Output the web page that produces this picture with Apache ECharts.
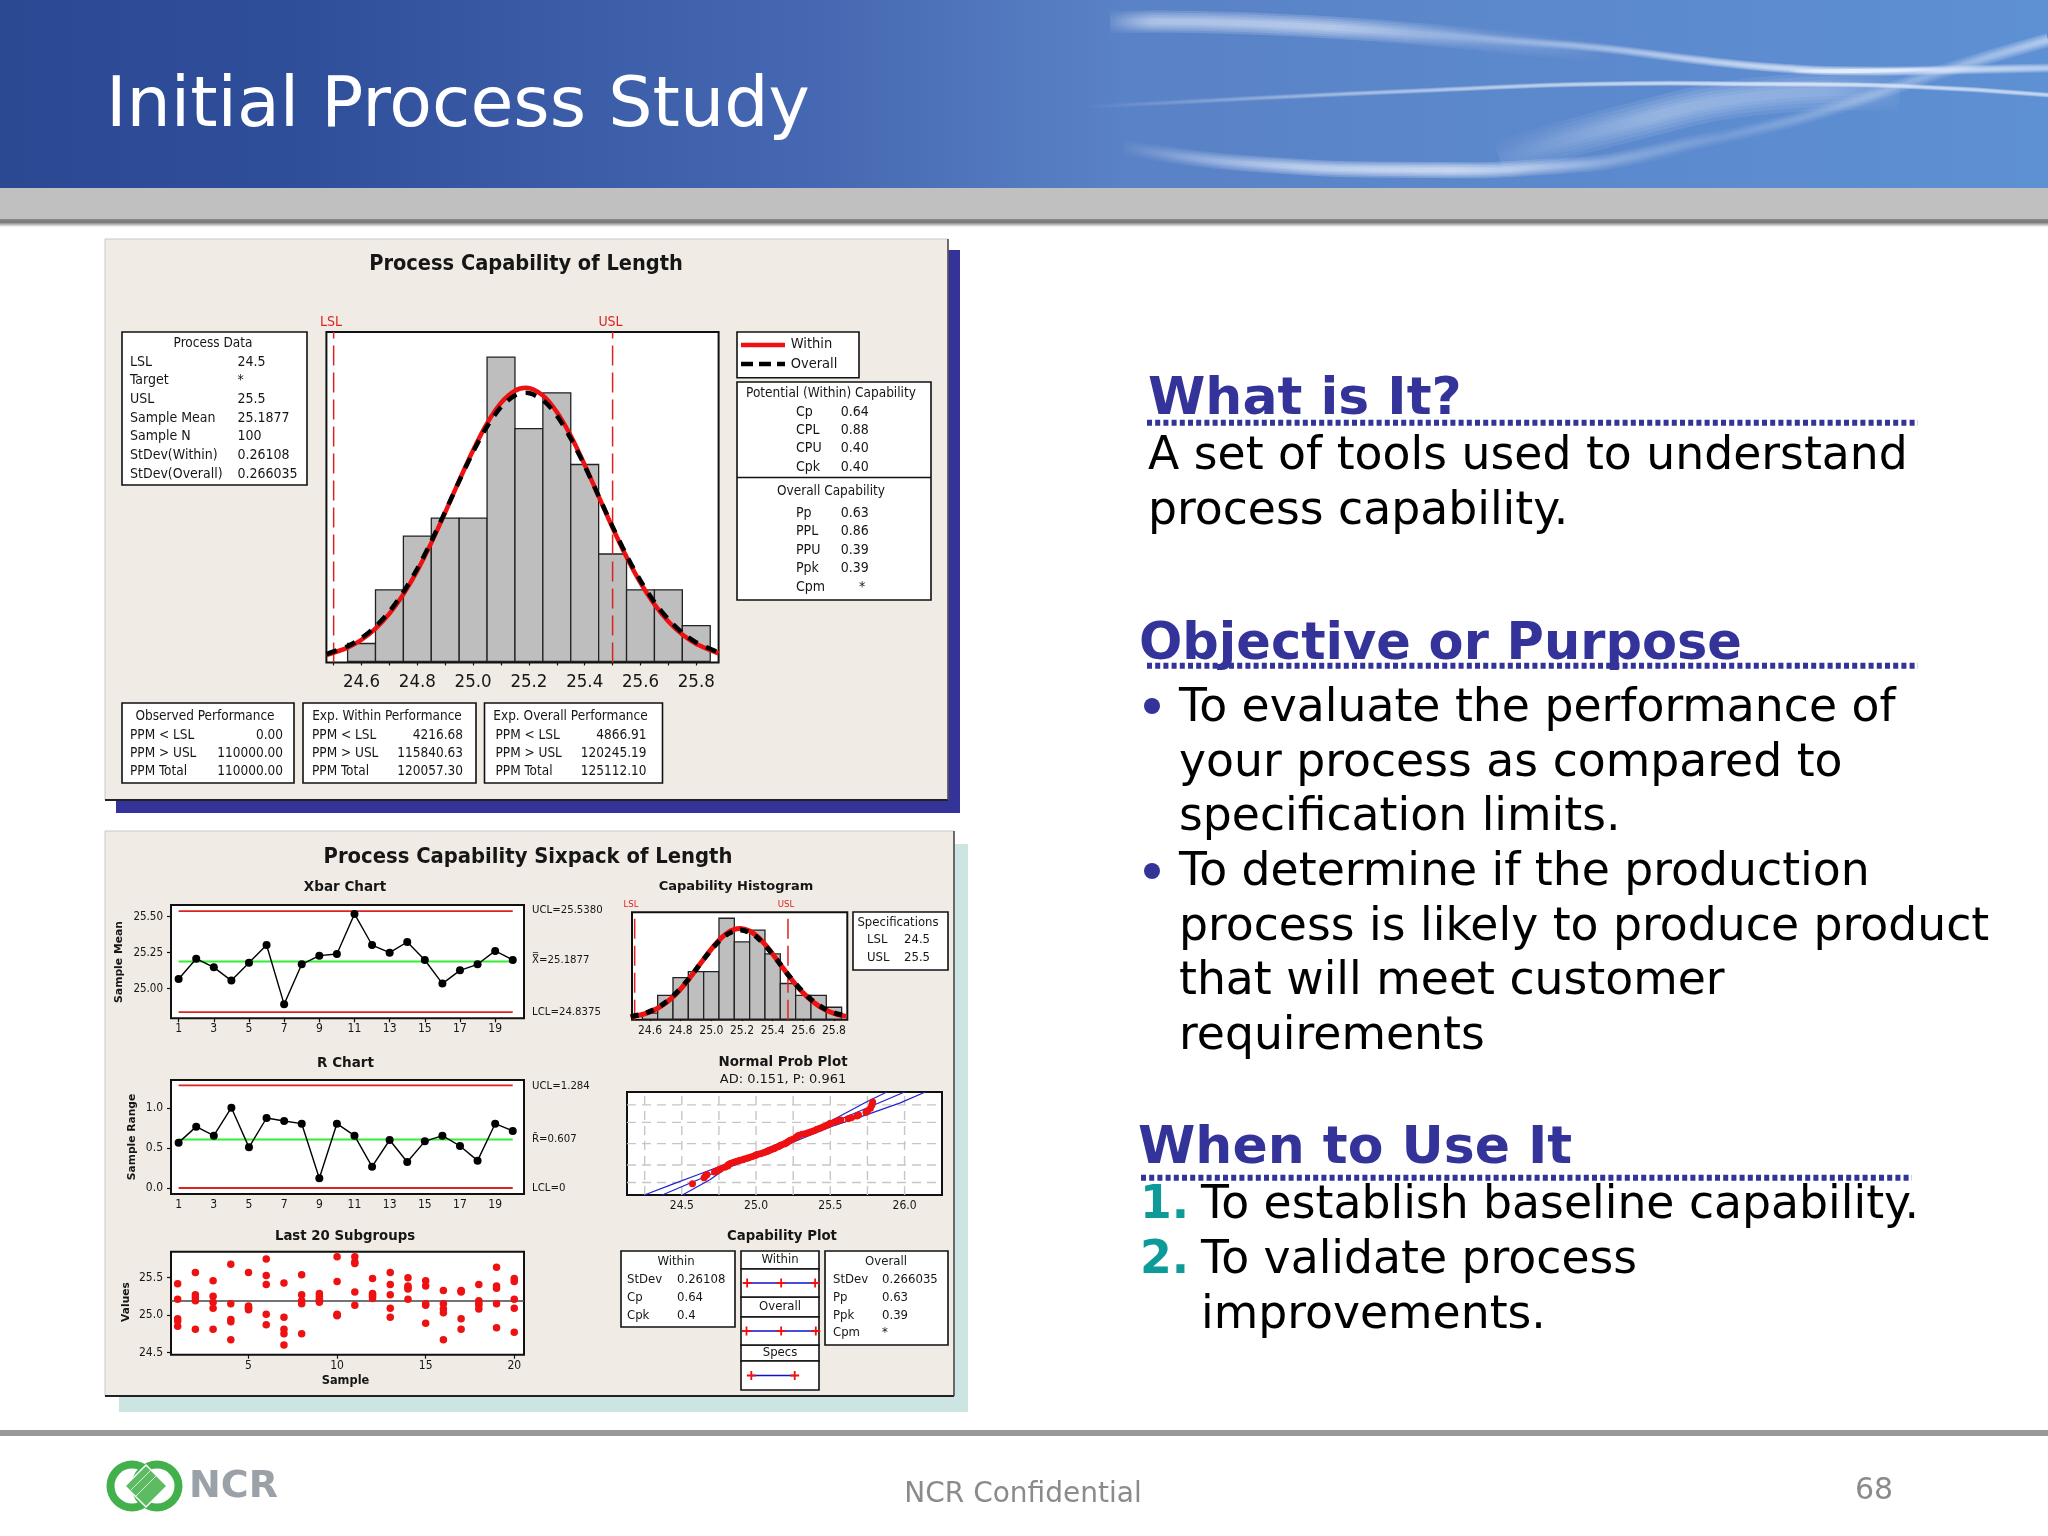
<!DOCTYPE html>
<html><head><meta charset="utf-8">
<style>html,body{margin:0;padding:0;background:#fff}#c{width:2048px;height:1536px}</style>
<script src="https://cdn.jsdelivr.net/npm/echarts@6/dist/echarts.min.js"></script>
</head><body><div id="c"></div>
<script>
/* ---------- data ---------- */
const slideTitle = 'Initial Process Study';
const specLimits = [24.5, 25.5];
const histBins = [24.6,24.7,24.8,24.9,25.0,25.1,25.2,25.3,25.4,25.5,25.6,25.7,25.8];
const histCounts = [1,4,7,8,8,17,13,15,11,6,4,4,2];
const curveX = [24.474,24.55,24.6,24.65,24.7,24.75,24.8,24.85,24.9,24.95,25.0,25.05,25.1,25.15,25.19,25.25,25.3,25.35,25.4,25.45,25.5,25.55,25.6,25.65,25.7,25.75,25.8,25.88];
const curveWithin = [.36,.77,1.21,1.83,2.67,3.75,5.07,6.62,8.33,10.10,11.80,13.30,14.44,15.12,15.28,14.85,13.93,12.60,10.98,9.22,7.47,5.83,4.39,3.19,2.23,1.50,.98,.45];
const curveOverall = [.41,.85,1.31,1.95,2.80,3.88,5.19,6.71,8.37,10.07,11.70,13.12,14.21,14.85,15.0,14.59,13.73,12.45,10.92,9.23,7.53,5.93,4.51,3.31,2.35,1.60,1.06,.51];
const subgroupIds = [1,2,3,4,5,6,7,8,9,10,11,12,13,14,15,16,17,18,19,20];
const xbarValues = [25.067,25.208,25.148,25.056,25.18,25.303,24.891,25.169,25.229,25.241,25.519,25.303,25.25,25.324,25.199,25.035,25.127,25.169,25.262,25.199];
const xbarUCL = 25.538, xbarMean = 25.1877, xbarLCL = 24.8375;
const rangeValues = [.567,.767,.654,1.004,.508,.875,.838,.804,.121,.804,.654,.267,.6,.325,.583,.654,.525,.342,.804,.713];
const rangeUCL = 1.284, rangeMean = .607, rangeLCL = 0;
const last20 = [
 [25.42,25.21,24.95,24.92,24.85],[25.57,25.27,25.23,25.19,24.81],[25.46,25.25,25.17,25.09,24.81],
 [25.68,25.15,24.94,24.91,24.67],[25.57,25.12,25.10,25.07,25.09],[25.75,25.53,25.41,25.01,24.87],
 [25.43,24.97,24.81,24.75,24.60],[25.54,25.27,25.19,25.15,24.75],[25.29,25.25,25.21,25.17,25.19],
 [25.78,25.45,25.01,24.99,25.00],[25.78,25.71,25.69,25.31,25.13],[25.49,25.29,25.27,25.25,25.22],
 [25.57,25.41,25.27,25.09,24.97],[25.50,25.39,25.37,25.35,25.21],[25.46,25.39,25.15,25.13,24.89],
 [25.33,25.15,25.08,25.03,24.67],[25.33,25.32,25.31,24.95,24.81],[25.41,25.19,25.16,25.13,25.08],
 [25.64,25.39,25.36,25.15,24.83],[25.49,25.45,25.21,25.09,24.77]];
const probPoints = [[24.572,-2.40],[24.65,-2.05],[24.66,-1.92],[24.67,-1.85],[24.72,-1.70],[24.74,-1.62],[24.75,-1.56],[24.76,-1.52],[24.79,-1.42],[24.81,-1.34],[24.81,-1.28],[24.82,-1.24],[24.83,-1.18],[24.85,-1.12],[24.87,-1.06],[24.89,-1.00],[24.91,-.96],[24.92,-.92],[24.94,-.88],[24.95,-.84],[24.97,-.78],[24.99,-.72],[25.0,-.68],[25.01,-.64],[25.03,-.60],[25.05,-.54],[25.07,-.48],[25.08,-.44],[25.09,-.40],[25.10,-.36],[25.12,-.30],[25.13,-.24],[25.15,-.18],[25.16,-.12],[25.17,-.08],[25.19,-.02],[25.20,.02],[25.21,.08],[25.22,.14],[25.23,.20],[25.25,.28],[25.27,.38],[25.28,.46],[25.29,.50],[25.31,.56],[25.33,.60],[25.35,.66],[25.37,.72],[25.39,.78],[25.41,.86],[25.43,.92],[25.45,1.00],[25.47,1.08],[25.49,1.16],[25.50,1.22],[25.53,1.30],[25.55,1.38],[25.57,1.42],[25.62,1.50],[25.64,1.56],[25.68,1.66],[25.69,1.72],[25.74,1.88],[25.75,1.96],[25.77,2.12],[25.78,2.32],[25.785,2.50]];
const probFit = [[24.368,-3.08],[26.0,3.1]];
const probUpper = [[24.248,-3.08],[24.43,-2.46],[24.621,-1.82],[24.846,-1.06],[25.0,-.56],[25.253,.40],[25.5,1.34],[25.752,2.54],[25.881,3.1]];
const probLower = [[24.504,-3.08],[24.689,-2.16],[24.801,-1.46],[25.0,-.84],[25.253,.10],[25.5,1.0],[25.752,1.76],[25.971,2.45],[26.14,3.1]];
const probGridX = [24.25,24.5,24.75,25.0,25.25,25.5,25.75,26.0];
const probGridZ = [-2.33,-1.28,0,1.28,2.33];
const capWithin = [24.404,25.1877,25.971];
const capOverall = [24.389,25.1877,25.986];
const processData = [['LSL','24.5'],['Target','*'],['USL','25.5'],['Sample Mean','25.1877'],['Sample N','100'],['StDev(Within)','0.26108'],['StDev(Overall)','0.266035']];
const potentialCap = [['Cp','0.64'],['CPL','0.88'],['CPU','0.40'],['Cpk','0.40']];
const overallCap = [['Pp','0.63'],['PPL','0.86'],['PPU','0.39'],['Ppk','0.39'],['Cpm','*']];
const observedPerf = [['PPM < LSL','0.00'],['PPM > USL','110000.00'],['PPM Total','110000.00']];
const withinPerf = [['PPM < LSL','4216.68'],['PPM > USL','115840.63'],['PPM Total','120057.30']];
const overallPerf = [['PPM < LSL','4866.91'],['PPM > USL','120245.19'],['PPM Total','125112.10']];
const capWithinRows = [['StDev','0.26108'],['Cp','0.64'],['Cpk','0.4']];
const capOverallRows = [['StDev','0.266035'],['Pp','0.63'],['Ppk','0.39'],['Cpm','*']];
const whatLines = ['A set of tools used to understand','process capability.'];
const purposeLines = ['To evaluate the performance of','your process as compared to','specification limits.','To determine if the production','process is likely to produce product','that will meet customer','requirements'];
const whenLines = ['To establish baseline capability.','To validate process','improvements.'];

/* ---------- drawing helpers ---------- */
const SANS='"DejaVu Sans"', COND='"DejaVu Sans Condensed","DejaVu Sans"';
const INK='#161616';
const els=[];
function T(text,x,y,size,o){o=o||{};els.push({type:'text',x,y,z:o.z==null?20:o.z,silent:true,rotation:o.rot||0,
  style:{text,fill:o.fill||INK,fontSize:size,fontFamily:o.fam||COND,fontWeight:o.w||'normal',align:o.a||'left',verticalAlign:'middle'}});}
function R(x,y,w,h,fill,o){o=o||{};els.push({type:'rect',z:o.z==null?-5:o.z,silent:true,shape:{x,y,width:w,height:h},style:{fill,stroke:o.stroke||null,lineWidth:o.lw||0}});}
function L(x1,y1,x2,y2,c,lw,o){o=o||{};els.push({type:'line',z:o.z==null?21:o.z,silent:true,shape:{x1,y1,x2,y2},style:{stroke:c,lineWidth:lw,lineDash:o.dash||null}});}
function Box(x,y,w,h){R(x,y,w,h,'#fff',{stroke:'#111',lw:1.6,z:-1});}

/* slide furniture */
R(0,0,2048,188,{type:'linear',x:0,y:0,x2:1,y2:0,colorStops:[{offset:0,color:'#2b4893'},{offset:.14,color:'#2f4e9a'},{offset:.4,color:'#4668b2'},{offset:.55,color:'#5a82c6'},{offset:1,color:'#5e90d4'}]},{z:-20});
/* soft header streaks: layered strokes, fading along their length */
function swoosh(pts,w,op,stops){
  [1,.8,.6,.42,.25].forEach(k=>els.push({type:'polyline',z:-19,silent:true,shape:{points:pts,smooth:.5},style:{fill:null,lineWidth:w*k,
    stroke:{type:'linear',x:0,y:0,x2:1,y2:0,colorStops:stops.map(s=>({offset:s[0],color:'rgba(230,238,252,'+(s[1]*op/3).toFixed(3)+')'}))}}}));
}
swoosh([[1110,22],[1200,22],[1306,26],[1420,34],[1502,42],[1600,52]],22,.6,[[0,0],[.1,.8],[.45,.9],[.75,.3],[1,0]]);
swoosh([[1420,32],[1502,40],[1600,48],[1698,60],[1780,68],[1855,71],[1950,70],[2048,68]],9,.9,[[0,0],[.3,.45],[.68,1],[1,.6]]);
swoosh([[1084,107],[1260,98],[1437,90],[1600,84],[1760,84],[1900,86],[2048,95]],5,.9,[[0,0],[.3,.5],[.7,1],[1,.8]]);
swoosh([[1123,147],[1241,163],[1436,170],[1560,166],[1633,157],[1720,135]],16,.75,[[0,0],[.3,.8],[.55,1],[.8,.3],[1,0]]);
swoosh([[1500,160],[1620,125],[1760,96],[1900,92]],38,.3,[[0,.1],[.4,1],[.8,.8],[1,0]]);
swoosh([[1600,160],[1680,145],[1740,133],[1828,110],[1940,72],[2048,40]],14,.5,[[0,0],[.4,.3],[.75,.5],[1,1]]);
swoosh([[1790,71],[1855,71],[1940,69]],4,2.4,[[0,0],[.4,1],[1,0]]);
R(0,188,2048,32,'#c0c0c0',{z:-20});
R(0,219,2048,8,{type:'linear',x:0,y:0,x2:0,y2:1,colorStops:[{offset:0,color:'#8a8a8a'},{offset:.4,color:'#777'},{offset:1,color:'#ffffff'}]},{z:-20});
T(slideTitle,106,108,69.8,{fam:SANS,fill:'#fff'});

R(0,1430,2048,6,'#999',{z:-20});
T('NCR Confidential',1023,1495,28,{fam:SANS,fill:'#8b8b8b',a:'center'});
T('68',1874,1491,30,{fam:SANS,fill:'#8b8b8b',a:'center'});
/* logo */
els.push({type:'ring',z:-4,silent:true,shape:{cx:132,cy:1486,r:25.5,r0:17.5},style:{fill:'#43b14b'}});
els.push({type:'ring',z:-4,silent:true,shape:{cx:157,cy:1486,r:25.5,r0:17.5},style:{fill:'#43b14b'}});
els.push({type:'polygon',z:-3,silent:true,shape:{points:[[125,1486],[146,1465],[167,1486],[146,1507]]},style:{fill:'#5dbb62',stroke:'#fff',lineWidth:1.5}});
L(136,1496,156,1476,'#d8f0d8',1,{});L(131,1490,151,1470,'#d8f0d8',1,{});
T('NCR',189,1487,38,{fam:SANS,w:'bold',fill:'#9ba1a8'});

/* panel 1 */
R(116,250,844,563,'#333399',{z:-15});
R(105,239,843,561,'#f0ece5',{z:-14,stroke:'#c8c8c8',lw:1});
L(105,800,948,800,'#222',2,{z:-13});L(948,239,948,800,'#444',1.5,{z:-13});
T('Process Capability of Length',526,264,21.6,{w:'bold',a:'center'});
T('LSL',331,322,14,{a:'center',fill:'#dd2222'});T('USL',610.5,322,14,{a:'center',fill:'#dd2222'});
/* process data */
Box(122,332,185,153);
T('Process Data',213,343,13.5,{a:'center'});
processData.forEach((r,i)=>{const y=362+i*18.7;T(r[0],130,y,14);T(r[1],237.5,y,14);});
/* legend */
Box(737,332,122,45.8);
L(741,345,785,345,'#ee1111',4.5,{});L(741,364,785,364,'#000',4.5,{dash:[12,6]});
T('Within',790.7,344,14.5);T('Overall',790.7,364,14.5);
/* capability */
Box(737,382,194,218);L(737,477.5,931,477.5,'#111',1.5,{});
T('Potential (Within) Capability',831,393,13.5,{a:'center'});
potentialCap.forEach((r,i)=>{const y=412+i*18.4;T(r[0],796,y,14);T(r[1],840.7,y,14);});
T('Overall Capability',831,491,13.5,{a:'center'});
overallCap.forEach((r,i)=>{const y=513+i*18.5;T(r[0],796,y,14);T(r[1],r[1]==='*'?859:840.7,y,14);});
/* performance */
[[122,172,'Observed Performance',205,130,283,observedPerf],[303,173,'Exp. Within Performance',387,312,463,withinPerf],[484.5,178,'Exp. Overall Performance',570.5,495.5,646.5,overallPerf]].forEach(b=>{
  Box(b[0],703,b[1],80);T(b[2],b[3],716,13.5,{a:'center'});
  b[6].forEach((r,i)=>{const y=735+i*18.1;T(r[0],b[4],y,13.5);T(r[1],b[5],y,13.5,{a:'right'});});
});

/* panel 2 */
R(119,844,849,568,'#cce5e3',{z:-15});
R(105,831,849,565,'#f0ece5',{z:-14,stroke:'#c8c8c8',lw:1});
L(105,1396,954,1396,'#222',2,{z:-13});L(954,831,954,1396,'#444',1.5,{z:-13});
T('Process Capability Sixpack of Length',528,857,21.8,{w:'bold',a:'center'});
const sub=(t,x,y,s)=>T(t,x,y,s,{fam:SANS,w:'bold',a:'center'});
sub('Xbar Chart',345,887,13.5);sub('R Chart',345.5,1063,13.5);sub('Last 20 Subgroups',345,1237,13.3);
sub('Capability Histogram',736,887,13);sub('Normal Prob Plot',783,1063,13.4);sub('Capability Plot',782,1237,13.3);
T('AD: 0.151, P: 0.961',783,1080,13,{fam:SANS,a:'center'});
T('Sample Mean',119,962,10.8,{fam:SANS,w:'bold',a:'center',rot:Math.PI/2});
T('Sample Range',132,1137,10.7,{fam:SANS,w:'bold',a:'center',rot:Math.PI/2});
T('Values',126,1302,10.7,{fam:SANS,w:'bold',a:'center',rot:Math.PI/2});
T('Sample',345.5,1381,11.4,{fam:SANS,w:'bold',a:'center'});
const rl=(t,y)=>T(t,532,y,11.3);
rl('UCL=25.5380',910);rl('X\u033F=25.1877',960);rl('LCL=24.8375',1012);
rl('UCL=1.284',1086);rl('R\u0304=0.607',1139);rl('LCL=0',1188);
T('LSL',631,905,9.5,{a:'center',fill:'#dd2222'});T('USL',786,905,9.5,{a:'center',fill:'#dd2222'});
Box(853,912,95,58);
T('Specifications',898,923,13,{a:'center'});
T('LSL',867,940,13);T('24.5',904,940,13);T('USL',867,958,13);T('25.5',904,958,13);
Box(621,1251,114,76);T('Within',676,1262,13,{a:'center'});
capWithinRows.forEach((r,i)=>{const y=1280+i*18;T(r[0],627,y,13);T(r[1],677,y,13);});
Box(825,1251,123,94);T('Overall',886,1262,13,{a:'center'});
capOverallRows.forEach((r,i)=>{const y=1280+i*17.7;T(r[0],833,y,13);T(r[1],882,y,13);});
Box(741,1251,78,18);T('Within',780,1260,13,{a:'center'});
Box(741,1297,78,20);T('Overall',780,1307,13,{a:'center'});
Box(741,1345,78,16);T('Specs',780,1353,13,{a:'center'});

/* right column text */
const NAVY='#333399', BODY=45.7, HEAD=52;
function dots(x1,x2,y){L(x1,y,x2,y,NAVY,6,{dash:[5,3.2],z:-2});}
const base=(t,x,b,size,o)=>T(t,x,b-size*.36,size,Object.assign({fam:SANS,fill:'#000'},o||{}));
base('What is It?',1148,419,HEAD,{w:'bold',fill:NAVY});dots(1147,1918,422.7);
whatLines.forEach((s,i)=>base(s,1148,474+i*55,BODY));
base('Objective or Purpose',1139,664,51,{w:'bold',fill:NAVY});dots(1147,1918,665.7);
purposeLines.forEach((s,i)=>base(s,1179,725.5+i*54.7,BODY));
[706,871].forEach(y=>els.push({type:'circle',z:-2,silent:true,shape:{cx:1152,cy:y,r:8},style:{fill:NAVY}}));
base('When to Use It',1138,1168,HEAD,{w:'bold',fill:NAVY});dots(1141,1912,1177.7);
base('1.',1140,1223,BODY,{w:'bold',fill:'#0f9a9a'});base('2.',1140,1278,BODY,{w:'bold',fill:'#0f9a9a'});
whenLines.forEach((s,i)=>base(s,1201,1223+i*54.7,BODY));

/* ---------- grids, axes, series ---------- */
const grids=[],xs=[],ys=[],series=[];
function addGrid(box,xo,yo){const g=grids.length;
  grids.push({left:box[0],top:box[1],width:box[2],height:box[3],show:true,backgroundColor:'#fff',borderColor:'#111',borderWidth:box[4]||2,containLabel:false,z:1});
  xs.push(Object.assign({type:'value',gridIndex:g,axisLine:{show:false},splitLine:{show:false}},xo));
  ys.push(Object.assign({type:'value',gridIndex:g,axisLine:{show:false},splitLine:{show:false}},yo));
  return g;}
function xAx(min,max,labels,ticks,size,fmt,margin,tlen){return {min,max,axisTick:{show:true,length:tlen||4,inside:false,customValues:ticks,lineStyle:{color:'#111',width:1.2}},axisLabel:{show:true,fontFamily:COND,fontSize:size,color:INK,margin,customValues:labels,formatter:fmt,showMinLabel:true,showMaxLabel:true,hideOverlap:false}};}
function yAx(min,max,labels,fmt,size){return {min,max,axisTick:{show:true,length:4,customValues:labels,lineStyle:{color:'#111',width:1.2}},axisLabel:{show:true,fontFamily:COND,fontSize:size||12,color:INK,margin:8,customValues:labels,formatter:fmt}};}
const hidden=(min,max)=>({min,max,show:false});
const f1=v=>v.toFixed(1),f2=v=>v.toFixed(2),f0=v=>String(v);

function histo(g,cw,dw,dash){
  series.push({type:'custom',xAxisIndex:g,yAxisIndex:g,silent:true,z:2,clip:true,data:histBins.map((b,i)=>[b,histCounts[i]]),
    renderItem(p,api){const a=api.coord([api.value(0)-.05,api.value(1)]),b=api.coord([api.value(0)+.05,0]);
      return {type:'rect',shape:{x:a[0],y:a[1],width:b[0]-a[0],height:b[1]-a[1]},style:{fill:'#bebebe',stroke:'#222',lineWidth:1.3}};}});
  specLimits.forEach(v=>series.push({type:'line',xAxisIndex:g,yAxisIndex:g,silent:true,z:3,symbol:'none',data:[[v,ys[g].min],[v,ys[g].max]],lineStyle:{color:'#dd2222',width:1.5,type:[20,7]}}));
  series.push({type:'line',name:'Within',xAxisIndex:g,yAxisIndex:g,silent:true,z:4,symbol:'none',smooth:.3,data:curveX.map((x,i)=>[x,curveWithin[i]]),lineStyle:{color:'#ee1111',width:cw}});
  series.push({type:'line',name:'Overall',xAxisIndex:g,yAxisIndex:g,silent:true,z:5,symbol:'none',smooth:.3,data:curveX.map((x,i)=>[x,curveOverall[i]]),lineStyle:{color:'#000',width:dw,type:dash}});
}
/* big histogram */
let g=addGrid([326.4,332,392.2,330.5],xAx(24.474,25.88,[24.6,24.8,25.0,25.2,25.4,25.6,25.8],[24.5,24.6,24.7,24.8,24.9,25.0,25.1,25.2,25.3,25.4,25.5,25.6,25.7,25.8],18.5,f1,10),hidden(-.06,18.4));
histo(g,4.5,4.5,[11,9]);
/* small histogram */
g=addGrid([632,912.3,215.3,107.4],xAx(24.4826,25.887,[24.6,24.8,25.0,25.2,25.4,25.6,25.8],[24.6,24.8,25.0,25.2,25.4,25.6,25.8],12,f1,5,2),hidden(-.1,18));
histo(g,5,5,[8,8]);

function control(box,xo,yo,values,ucl,mean,lcl){
  const g=addGrid(box,xo,yo);
  [[ucl,'#dd2222',1.8],[mean,'#33ee33',2],[lcl,'#dd2222',1.8]].forEach(l=>series.push({type:'line',xAxisIndex:g,yAxisIndex:g,silent:true,z:2,symbol:'none',data:[[1,l[0]],[20,l[0]]],lineStyle:{color:l[1],width:l[2]}}));
  series.push({type:'line',xAxisIndex:g,yAxisIndex:g,silent:true,z:3,symbol:'circle',symbolSize:8,data:subgroupIds.map((x,i)=>[x,values[i]]),itemStyle:{color:'#000'},lineStyle:{color:'#000',width:1.4}});
}
const oddTicks=[1,3,5,7,9,11,13,15,17,19];
control([171,905,353,113.3],xAx(.566,20.64,oddTicks,oddTicks,12,f0,5),yAx(24.794,25.581,[25,25.25,25.5],f2,11.5),xbarValues,xbarUCL,xbarMean,xbarLCL);
control([171,1080,353,114],xAx(.566,20.64,oddTicks,oddTicks,12,f0,5),yAx(-.075,1.35,[0,.5,1],f1),rangeValues,rangeUCL,rangeMean,rangeLCL);

/* last 20 subgroups */
g=addGrid([171,1251.7,353,103],xAx(.624,20.55,[5,10,15,20],[5,10,15,20],12,f0,5),yAx(24.469,25.848,[24.5,25,25.5],f1));
series.push({type:'line',xAxisIndex:g,yAxisIndex:g,silent:true,z:2,symbol:'none',data:[[.624,xbarMean],[20.55,xbarMean]],lineStyle:{color:'#444',width:1.5}});
series.push({type:'scatter',xAxisIndex:g,yAxisIndex:g,silent:true,z:3,symbol:'circle',symbolSize:7.5,clip:false,itemStyle:{color:'#ee1111',opacity:1},data:last20.flatMap((vals,i)=>vals.map(v=>[subgroupIds[i],v]))});

/* normal probability plot */
g=addGrid([627,1092,315,103],xAx(24.131,26.252,[24.5,25,25.5,26],[24.5,25,25.5,26],12,f1,5,3),hidden(-3.08,3.1));
probGridX.forEach(v=>series.push({type:'line',xAxisIndex:g,yAxisIndex:g,silent:true,z:2,symbol:'none',data:[[v,-3.08],[v,3.1]],lineStyle:{color:'#c6c6c6',width:1.4,type:[9,6]}}));
probGridZ.forEach(v=>series.push({type:'line',xAxisIndex:g,yAxisIndex:g,silent:true,z:2,symbol:'none',data:[[24.131,v],[26.252,v]],lineStyle:{color:'#c6c6c6',width:1.4,type:[9,6]}}));
[probFit,probUpper,probLower].forEach(d=>series.push({type:'line',xAxisIndex:g,yAxisIndex:g,silent:true,z:3,symbol:'none',data:d,lineStyle:{color:'#2222cc',width:1.2}}));
series.push({type:'scatter',xAxisIndex:g,yAxisIndex:g,silent:true,z:4,symbolSize:7,itemStyle:{color:'#ee1111',opacity:1},data:probPoints});

/* capability plot */
const PLUS='path://M4,0H6V4H10V6H6V10H4V6H0V4H4Z';
[[1269,28,capWithin],[1317,28,capOverall],[1361,29,specLimits]].forEach(p=>{
  const g=addGrid([741,p[0],78,p[1],1.6],hidden(24.262,26.06),hidden(-1,1));
  series.push({type:'line',xAxisIndex:g,yAxisIndex:g,silent:true,z:3,symbol:PLUS,symbolSize:9,data:p[2].map(x=>[x,0]),itemStyle:{color:'#ee1111'},lineStyle:{color:'#1111cc',width:1.6}});
});

const chart=echarts.init(document.getElementById('c'),null,{width:2048,height:1536,renderer:'canvas'});
chart.setOption({animation:false,backgroundColor:'#fff',tooltip:{show:false},graphic:{elements:els},grid:grids,xAxis:xs,yAxis:ys,series});
</script></body></html>
